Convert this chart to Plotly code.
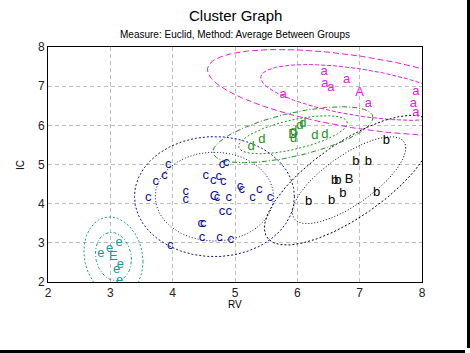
import numpy as np
import plotly.graph_objects as go

# ---- data ----
a_x = [6.43, 6.44, 6.54, 6.79, 7.14, 5.77, 7.90, 7.86, 7.90]
a_y = [7.36, 7.07, 6.96, 7.17, 6.56, 6.77, 6.86, 6.54, 6.31]
b_x = [7.43, 6.94, 7.14, 6.60, 6.65, 6.73, 6.18, 6.55, 7.27]
b_y = [5.60, 5.06, 5.06, 4.59, 4.59, 4.26, 4.05, 4.08, 4.28]
c_x = [3.93, 3.87, 3.73, 3.61, 4.21, 4.21, 4.53, 4.65, 4.74, 4.81, 4.79, 4.86, 4.71, 4.90,
       4.79, 4.90, 4.45, 4.49, 4.47, 4.75, 4.93, 3.96, 5.08, 5.11, 5.28, 5.39, 5.56]
c_y = [4.99, 4.71, 4.56, 4.16, 4.31, 4.09, 4.71, 4.59, 4.69, 4.56, 4.99, 5.05, 4.16, 4.16,
       3.80, 3.80, 3.48, 3.48, 3.12, 3.12, 3.09, 2.92, 4.43, 4.35, 4.14, 4.35, 4.16]
d_x = [5.26, 5.43, 5.94, 5.94, 6.04, 6.09, 6.28, 6.44]
d_y = [5.45, 5.64, 5.84, 5.67, 5.98, 6.05, 5.73, 5.75]
e_x = [2.85, 2.99, 3.14, 3.16, 3.10, 3.15]
e_y = [2.73, 2.84, 3.00, 2.43, 2.31, 2.02]

cluster_names = ["a", "b", "c", "d", "e"]
centroid_x = [7.00, 6.83, 4.67, 5.93, 3.05]
centroid_y = [6.84, 4.60, 4.18, 5.76, 2.65]
# outer ellipse spread (data units) and correlation
ell_sx = [2.442, 1.358, 1.283, 1.284, 0.474]
ell_sy = [1.096, 1.656, 1.532, 0.7145, 1.011]
ell_rho = [-0.53, 0.739, 0.0, 0.612, -0.132]
inner_scale = [0.65, 0.67, 0.74, 0.68, 0.61]

x_ticks = [2, 3, 4, 5, 6, 7, 8]
y_ticks = [2, 3, 4, 5, 6, 7, 8]

# ---- styles ----
colors = ["#e020e0", "#000000", "#10109a", "#1f8f1f", "#149c9c"]
outer_dash = ["6px,3px", "2px,2px", "2px,2px", "5px,2px,1px,2px", "2px,2px"]
inner_dash = ["4px,2px", "1px,2px", "1px,2px", "2px,2px", "3px,2px,1px,2px"]
FONT = "Liberation Sans, Arial, sans-serif"

pts_x = [a_x, b_x, c_x, d_x, e_x]
pts_y = [a_y, b_y, c_y, d_y, e_y]

fig = go.Figure()
t = np.linspace(0, 2 * np.pi, 361)
for i in range(5):
    for k, dash in ((1.0, outer_dash[i]), (inner_scale[i], inner_dash[i])):
        r = ell_rho[i]
        ex = centroid_x[i] + k * ell_sx[i] * np.cos(t)
        ey = centroid_y[i] + k * ell_sy[i] * (r * np.cos(t) + np.sqrt(1 - r * r) * np.sin(t))
        fig.add_trace(go.Scatter(x=ex, y=ey, mode="lines",
                                 line=dict(color=colors[i], width=1, dash=dash),
                                 hoverinfo="skip", showlegend=False))

for i in range(5):
    xs = list(pts_x[i]) + [centroid_x[i]]
    ys = list(pts_y[i]) + [centroid_y[i]]
    txt = [cluster_names[i]] * len(pts_x[i]) + [cluster_names[i].upper()]
    fig.add_trace(go.Scatter(x=xs, y=ys, mode="text", text=txt,
                             textposition="middle center",
                             textfont=dict(family=FONT, size=13, color=colors[i]),
                             showlegend=False))

L, R, T, B = 48, 48, 47, 71
W, H = 470, 353
pw, ph = W - L - R, H - T - B

def px(xp):
    return (xp - L) / pw

def py(yp):
    return (H - B - yp) / ph

axis_common = dict(range=[2, 8], showgrid=True, gridcolor="#bdbdbd", griddash="4px,3px",
                   gridwidth=1, showline=True, linecolor="black", linewidth=1, mirror=True,
                   zeroline=False, ticks="", tickfont=dict(family=FONT, size=12, color="#222"),
                   fixedrange=True)

fig.update_layout(
    width=W, height=H,
    margin=dict(l=L, r=R, t=T, b=B),
    paper_bgcolor="white", plot_bgcolor="white",
    xaxis=dict(tickvals=x_ticks, ticktext=[str(v) for v in x_ticks], **axis_common),
    yaxis=dict(tickvals=y_ticks, ticktext=[str(v) for v in y_ticks], **axis_common),
    annotations=[
        dict(text="Cluster Graph", x=0.5, y=py(15), xref="paper", yref="paper",
             showarrow=False, font=dict(family=FONT, size=15, color="black"),
             xanchor="center", yanchor="middle"),
        dict(text="Measure: Euclid, Method: Average Between Groups", x=0.5, y=py(35),
             xref="paper", yref="paper", showarrow=False,
             font=dict(family=FONT, size=10, color="black"), xanchor="center", yanchor="middle"),
        dict(text="RV", x=0.5, y=py(304), xref="paper", yref="paper", showarrow=False,
             font=dict(family=FONT, size=10, color="black"), xanchor="center", yanchor="middle"),
        dict(text="IC", x=px(20), y=py(165), xref="paper", yref="paper", showarrow=False,
             textangle=-90, font=dict(family=FONT, size=10, color="black"),
             xanchor="center", yanchor="middle"),
    ],
    shapes=[
        dict(type="rect", xref="paper", yref="paper", x0=px(467), x1=px(471),
             y0=py(348), y1=py(-1), fillcolor="black", line=dict(width=0), layer="above"),
        dict(type="rect", xref="paper", yref="paper", x0=px(-1), x1=px(465),
             y0=py(354), y1=py(350), fillcolor="black", line=dict(width=0), layer="above"),
    ],
)

fig.write_html("out.html")
